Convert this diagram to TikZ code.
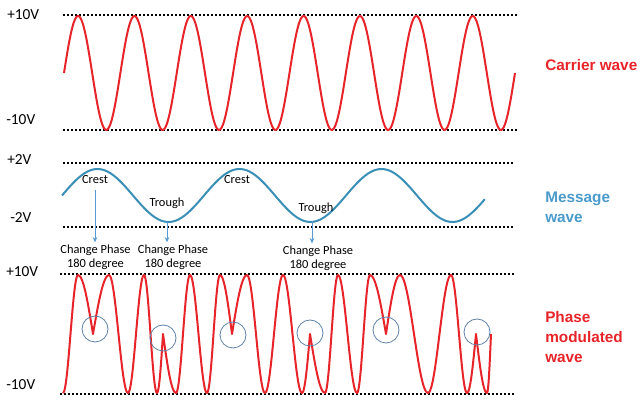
\documentclass[tikz,border=0pt]{standalone}
\usepackage{fontspec}
\setmainfont{Carlito}
\newfontfamily\lsans{Liberation Sans}
\usetikzlibrary{arrows.meta}
\definecolor{wred}{RGB}{230,36,42}
\definecolor{mblue}{RGB}{58,143,183}
\definecolor{lblue}{RGB}{74,154,203}
\definecolor{arrblue}{RGB}{91,155,213}
\definecolor{cblue}{RGB}{95,130,168}
\begin{document}
\begin{tikzpicture}[x=0.75pt,y=-0.75pt,
  guide/.style={line width=1.5pt, dash pattern=on 1.5pt off 1.5pt, black},
  carrier/.style={wred, line width=1.5pt, line join=round},
  msg/.style={mblue, line width=1.5pt},
  volt/.style={font=\fontsize{11.5}{13}\selectfont, anchor=west, inner sep=0pt},
  sidelab/.style={font=\lsans\bfseries\fontsize{11.5}{15}\selectfont, align=left, anchor=west, inner sep=0pt},
  small/.style={font=\fontsize{9.3}{10.5}\selectfont, align=center, inner sep=0pt},
  arr/.style={arrblue, line width=0.6pt, -{Stealth[length=4pt,width=3.5pt]}},
  ring/.style={circle, draw=cblue, line width=0.6pt, minimum size=19.5pt, inner sep=0pt}]
\useasboundingbox (0,0) rectangle (640,409);
\def\T{275}\def\B{393}\def\M{334}
% guide lines
\draw[guide] (63,15.5) -- (517,15.5);
\draw[guide] (63,130) -- (517,130);
\draw[guide] (63,163) -- (515,163);
\draw[guide] (63,227) -- (515,227);
\draw[guide] (60,274) -- (514,274);
\draw[guide] (60,394) -- (514,394);
% voltage labels
\node[volt] (v1) at (7,15) {+10V};
\node[volt] (v2) at (6,120) {-10V};
\node[volt] (v3) at (7,160) {+2V};
\node[volt] (v4) at (10,218) {-2V};
\node[volt] (v5) at (6,272) {+10V};
\node[volt] (v6) at (6,385) {-10V};
% side labels
\node[sidelab, wred] (lc) at (545,65) {Carrier wave};
\node[sidelab, lblue] (lm) at (545,207) {Message\\wave};
\node[sidelab, wred] (lp) at (545,337) {Phase\\modulated\\wave};
% carrier wave
\draw[carrier] plot[domain=0:2880, samples=361, smooth] ({64+\x/360*56.375},{73-57*sin(\x)});
% message wave
\draw[msg] plot[domain=0:1072, samples=150, smooth] ({62+\x/360*142},{195.5-26.5*sin(\x)});
% message annotations
\node[small] (crest1) at (95,180) {Crest};
\node[small] (crest2) at (237,180) {Crest};
\node[small] (trough1) at (167,203) {Trough};
\node[small] (trough2) at (316,208) {Trough};
\node[small] (chg1) at (95.5,257) {Change Phase\\180 degree};
\node[small] (chg2) at (173,257) {Change Phase\\180 degree};
\node[small] (chg3) at (318,258) {Change Phase\\180 degree};
\coordinate (tr1) at (167,222);
\coordinate (tr2) at (312,221);
\draw[arr, shorten <=4pt, shorten >=1.5pt] (crest1.south) -- (crest1.south |- chg1.north);
\draw[arr, shorten >=1.5pt] (tr1) -- (tr1 |- chg2.north);
\draw[arr, shorten >=1.5pt] (tr2) -- (tr2 |- chg3.north);
% phase modulated wave
\draw[carrier] (63,\B) cos (70.5,\M) sin (78,\T)
  cos (93,\M) sin (109,\T)
  cos (118.5,\M) sin (128,\B)
  cos (136,\M) sin (144,\T)
  cos (150.5,\M) sin (157,\B)
  cos (163,\M) sin (176,\B)
  cos (183,\M) sin (190,\T)
  cos (198.5,\M) sin (207,\B)
  cos (213.5,\M) sin (220,\T)
  cos (232,\M) sin (247,\T)
  cos (256,\M) sin (265,\B)
  cos (274,\M) sin (283,\T)
  cos (292.5,\M) sin (302,\B)
  cos (310,\M) sin (325,\B)
  cos (331.5,\M) sin (338,\T)
  cos (347.5,\M) sin (357,\B)
  cos (363.5,\M) sin (370,\T)
  cos (386,\M) sin (400,\T)
  cos (414,\M) sin (428,\B)
  cos (439.5,\M) sin (451,\T)
  cos (459,\M) sin (467,\B)
  cos (476,\M) sin (487,\B)
  cos (491,\M);
% phase change rings
\node[ring] (c1) at (95,329) {};
\node[ring] (c2) at (163,338) {};
\node[ring] (c3) at (233,335) {};
\node[ring] (c4) at (310,333) {};
\node[ring] (c5) at (386,330) {};
\node[ring] (c6) at (477,332) {};
\end{tikzpicture}
\end{document}
